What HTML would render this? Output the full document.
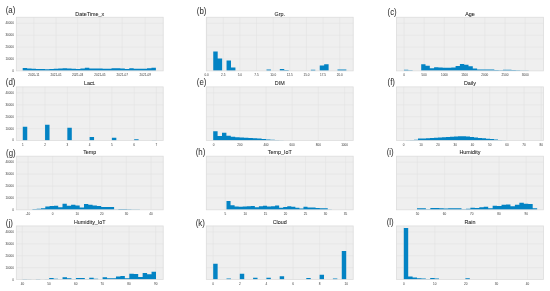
<!DOCTYPE html>
<html><head><meta charset="utf-8"><title>Histograms</title>
<style>
html,body{margin:0;padding:0;background:#fff;}
body{width:550px;height:291px;overflow:hidden;}
svg{display:block;}
.gr{stroke:#e2e2e2;stroke-width:0.55;}
.fr{fill:none;stroke:#dcdcdc;stroke-width:0.8;}
.b{fill:#0383c4;}
text{font-family:"DejaVu Sans","Liberation Sans",sans-serif;}
.xt,.yt{font-family:"Liberation Sans","DejaVu Sans",sans-serif;font-size:3.1px;fill:#333333;}
.xt{text-anchor:middle;}
.yt{text-anchor:end;fill:#3c3c3c;}
.ti{font-family:"Liberation Sans","DejaVu Sans",sans-serif;font-size:5.4px;fill:#222222;text-anchor:middle;stroke:#222222;stroke-width:0.06;}
.lb{font-family:"Liberation Sans","DejaVu Sans",sans-serif;font-size:7.9px;fill:#333333;stroke:#333333;stroke-width:0.04;}
</style></head>
<body>
<svg width="550" height="291" viewBox="0 0 550 291">
<rect width="550" height="291" fill="#fff"/>
<rect x="16.3" y="17.25" width="146.9" height="53.6" fill="#efefef"/>
<line x1="33.8" y1="17.25" x2="33.8" y2="70.85" class="gr"/>
<line x1="56.1" y1="17.25" x2="56.1" y2="70.85" class="gr"/>
<line x1="77.6" y1="17.25" x2="77.6" y2="70.85" class="gr"/>
<line x1="99.9" y1="17.25" x2="99.9" y2="70.85" class="gr"/>
<line x1="122.2" y1="17.25" x2="122.2" y2="70.85" class="gr"/>
<line x1="145.2" y1="17.25" x2="145.2" y2="70.85" class="gr"/>
<line x1="16.3" y1="58.95" x2="163.2" y2="58.95" class="gr"/>
<line x1="16.3" y1="47.05" x2="163.2" y2="47.05" class="gr"/>
<line x1="16.3" y1="35.15" x2="163.2" y2="35.15" class="gr"/>
<line x1="16.3" y1="23.25" x2="163.2" y2="23.25" class="gr"/>
<path d="M22.7 70.85L22.7 68L27.14 68L27.14 68.6L31.58 68.6L31.58 68.7L36.02 68.7L36.02 68.9L40.46 68.9L40.46 69.1L44.9 69.1L44.9 69.2L49.34 69.2L49.34 69L53.78 69L53.78 68.8L58.22 68.8L58.22 68.6L62.66 68.6L62.66 68.3L67.1 68.3L67.1 68.4L71.54 68.4L71.54 68.8L75.98 68.8L75.98 69.1L80.42 69.1L80.42 68.6L84.86 68.6L84.86 67.7L89.3 67.7L89.3 68.4L93.74 68.4L93.74 68.5L98.18 68.5L98.18 68.6L102.62 68.6L102.62 68.8L107.06 68.8L107.06 68.7L111.5 68.7L111.5 68.3L115.94 68.3L115.94 68.3L120.38 68.3L120.38 68.4L124.82 68.4L124.82 69L129.26 69L129.26 68.3L133.7 68.3L133.7 68.8L138.14 68.8L138.14 68.8L142.58 68.8L142.58 68.8L147.02 68.8L147.02 68.3L151.46 68.3L151.46 67.8L155.9 67.8L155.9 70.85Z" class="b"/>
<rect x="16.3" y="17.25" width="146.9" height="53.6" class="fr"/>
<text x="33.8" y="76.05" class="xt">2020-11</text>
<text x="56.1" y="76.05" class="xt">2021-01</text>
<text x="77.6" y="76.05" class="xt">2021-03</text>
<text x="99.9" y="76.05" class="xt">2021-05</text>
<text x="122.2" y="76.05" class="xt">2021-07</text>
<text x="145.2" y="76.05" class="xt">2021-09</text>
<text x="14" y="71.83" class="yt">0</text>
<text x="14" y="59.93" class="yt">10000</text>
<text x="14" y="48.03" class="yt">20000</text>
<text x="14" y="36.13" class="yt">30000</text>
<text x="14" y="24.23" class="yt">40000</text>
<text transform="translate(89.75,15.95) scale(1,1.12)" class="ti">DateTime_x</text>
<text transform="translate(5.7,13.1) scale(1,1.07)" class="lb">(a)</text>
<rect x="206.3" y="17.25" width="146.9" height="53.6" fill="#efefef"/>
<line x1="206.6" y1="17.25" x2="206.6" y2="70.85" class="gr"/>
<line x1="223.24" y1="17.25" x2="223.24" y2="70.85" class="gr"/>
<line x1="239.88" y1="17.25" x2="239.88" y2="70.85" class="gr"/>
<line x1="256.51" y1="17.25" x2="256.51" y2="70.85" class="gr"/>
<line x1="273.15" y1="17.25" x2="273.15" y2="70.85" class="gr"/>
<line x1="289.79" y1="17.25" x2="289.79" y2="70.85" class="gr"/>
<line x1="306.43" y1="17.25" x2="306.43" y2="70.85" class="gr"/>
<line x1="323.06" y1="17.25" x2="323.06" y2="70.85" class="gr"/>
<line x1="339.7" y1="17.25" x2="339.7" y2="70.85" class="gr"/>
<line x1="206.3" y1="58.95" x2="353.2" y2="58.95" class="gr"/>
<line x1="206.3" y1="47.05" x2="353.2" y2="47.05" class="gr"/>
<line x1="206.3" y1="35.15" x2="353.2" y2="35.15" class="gr"/>
<line x1="206.3" y1="23.25" x2="353.2" y2="23.25" class="gr"/>
<path d="M213.25 70.85L213.25 51.6L217.69 51.6L217.69 58.6L222.13 58.6L222.13 70.85ZM226.56 70.85L226.56 60.6L231 60.6L231 67.6L235.44 67.6L235.44 70.85ZM266.5 70.85L266.5 69.6L270.93 69.6L270.93 70.85ZM279.81 70.85L279.81 68.9L284.24 68.9L284.24 70.1L288.68 70.1L288.68 70.85ZM310.86 70.85L310.86 69.8L315.3 69.8L315.3 70.85ZM319.74 70.85L319.74 65.5L324.17 65.5L324.17 64.3L328.61 64.3L328.61 70.85ZM337.48 70.85L337.48 69.4L341.92 69.4L341.92 69.4L346.35 69.4L346.36 70.85Z" class="b"/>
<rect x="206.3" y="17.25" width="146.9" height="53.6" class="fr"/>
<text x="206.6" y="76.05" class="xt">0.0</text>
<text x="223.24" y="76.05" class="xt">2.5</text>
<text x="239.88" y="76.05" class="xt">5.0</text>
<text x="256.51" y="76.05" class="xt">7.5</text>
<text x="273.15" y="76.05" class="xt">10.0</text>
<text x="289.79" y="76.05" class="xt">12.5</text>
<text x="306.43" y="76.05" class="xt">15.0</text>
<text x="323.06" y="76.05" class="xt">17.5</text>
<text x="339.7" y="76.05" class="xt">20.0</text>
<text transform="translate(279.75,15.95) scale(1,1.12)" class="ti">Grp.</text>
<text transform="translate(196.8,14) scale(1,1.07)" class="lb">(b)</text>
<rect x="396.5" y="17.25" width="146.9" height="53.6" fill="#efefef"/>
<line x1="404" y1="17.25" x2="404" y2="70.85" class="gr"/>
<line x1="424.2" y1="17.25" x2="424.2" y2="70.85" class="gr"/>
<line x1="444.4" y1="17.25" x2="444.4" y2="70.85" class="gr"/>
<line x1="464.6" y1="17.25" x2="464.6" y2="70.85" class="gr"/>
<line x1="484.8" y1="17.25" x2="484.8" y2="70.85" class="gr"/>
<line x1="505" y1="17.25" x2="505" y2="70.85" class="gr"/>
<line x1="525.2" y1="17.25" x2="525.2" y2="70.85" class="gr"/>
<line x1="396.5" y1="58.95" x2="543.4" y2="58.95" class="gr"/>
<line x1="396.5" y1="47.05" x2="543.4" y2="47.05" class="gr"/>
<line x1="396.5" y1="35.15" x2="543.4" y2="35.15" class="gr"/>
<line x1="396.5" y1="23.25" x2="543.4" y2="23.25" class="gr"/>
<path d="M404 70.85L404 69.8L408.3 69.8L408.3 70.35L412.6 70.35L412.6 70.85ZM421.2 70.85L421.2 64.3L425.5 64.3L425.5 65.8L429.8 65.8L429.8 68.2L434.1 68.2L434.1 67.3L438.4 67.3L438.4 67.6L442.7 67.6L442.7 67.8L447 67.8L447 67.8L451.3 67.8L451.3 67.6L455.6 67.6L455.6 66L459.9 66L459.9 64.1L464.2 64.1L464.2 64.8L468.5 64.8L468.5 66.3L472.8 66.3L472.8 68.6L477.1 68.6L477.1 69.4L481.4 69.4L481.4 69.6L485.7 69.6L485.7 69.6L490 69.6L490 69.6L494.3 69.6L494.3 70.1L498.6 70.1L498.6 70.3L502.9 70.3L502.9 69.7L507.2 69.7L507.2 69.8L511.5 69.8L511.5 70.1L515.8 70.1L515.8 70.3L520.1 70.3L520.1 70.4L524.4 70.4L524.4 70.55L528.7 70.55L528.7 70.85Z" class="b"/>
<rect x="396.5" y="17.25" width="146.9" height="53.6" class="fr"/>
<text x="404" y="76.05" class="xt">0</text>
<text x="424.2" y="76.05" class="xt">500</text>
<text x="444.4" y="76.05" class="xt">1000</text>
<text x="464.6" y="76.05" class="xt">1500</text>
<text x="484.8" y="76.05" class="xt">2000</text>
<text x="505" y="76.05" class="xt">2500</text>
<text x="525.2" y="76.05" class="xt">3000</text>
<text transform="translate(469.95,15.95) scale(1,1.12)" class="ti">Age</text>
<text transform="translate(387.5,15.1) scale(1,1.07)" class="lb">(c)</text>
<rect x="16.3" y="86.9" width="146.9" height="53.6" fill="#efefef"/>
<line x1="22.8" y1="86.9" x2="22.8" y2="140.5" class="gr"/>
<line x1="45.07" y1="86.9" x2="45.07" y2="140.5" class="gr"/>
<line x1="67.34" y1="86.9" x2="67.34" y2="140.5" class="gr"/>
<line x1="89.61" y1="86.9" x2="89.61" y2="140.5" class="gr"/>
<line x1="111.88" y1="86.9" x2="111.88" y2="140.5" class="gr"/>
<line x1="134.15" y1="86.9" x2="134.15" y2="140.5" class="gr"/>
<line x1="156.42" y1="86.9" x2="156.42" y2="140.5" class="gr"/>
<line x1="16.3" y1="128.6" x2="163.2" y2="128.6" class="gr"/>
<line x1="16.3" y1="116.7" x2="163.2" y2="116.7" class="gr"/>
<line x1="16.3" y1="104.8" x2="163.2" y2="104.8" class="gr"/>
<line x1="16.3" y1="92.9" x2="163.2" y2="92.9" class="gr"/>
<path d="M22.8 140.5L22.8 126.75L27.25 126.75L27.25 140.5ZM45.07 140.5L45.07 124.85L49.52 124.85L49.52 140.5ZM67.34 140.5L67.34 127.75L71.79 127.75L71.79 140.5ZM89.61 140.5L89.61 136.95L94.06 136.95L94.06 140.5ZM111.88 140.5L111.88 137.85L116.33 137.85L116.33 140.5ZM134.15 140.5L134.15 139.3L138.6 139.3L138.6 140.5ZM151.97 140.5L151.97 140.35L156.42 140.35L156.42 140.5Z" class="b"/>
<rect x="16.3" y="86.9" width="146.9" height="53.6" class="fr"/>
<text x="22.8" y="145.7" class="xt">1</text>
<text x="45.07" y="145.7" class="xt">2</text>
<text x="67.34" y="145.7" class="xt">3</text>
<text x="89.61" y="145.7" class="xt">4</text>
<text x="111.88" y="145.7" class="xt">5</text>
<text x="134.15" y="145.7" class="xt">6</text>
<text x="156.42" y="145.7" class="xt">7</text>
<text x="14" y="141.48" class="yt">0</text>
<text x="14" y="129.58" class="yt">10000</text>
<text x="14" y="117.68" class="yt">20000</text>
<text x="14" y="105.78" class="yt">30000</text>
<text x="14" y="93.88" class="yt">40000</text>
<text transform="translate(89.75,84.95) scale(1,1.12)" class="ti">Lact.</text>
<text transform="translate(5.8,84.85) scale(1,1.07)" class="lb">(d)</text>
<rect x="206.3" y="86.9" width="146.9" height="53.6" fill="#efefef"/>
<line x1="213.6" y1="86.9" x2="213.6" y2="140.5" class="gr"/>
<line x1="239.8" y1="86.9" x2="239.8" y2="140.5" class="gr"/>
<line x1="266" y1="86.9" x2="266" y2="140.5" class="gr"/>
<line x1="292.2" y1="86.9" x2="292.2" y2="140.5" class="gr"/>
<line x1="318.4" y1="86.9" x2="318.4" y2="140.5" class="gr"/>
<line x1="344.6" y1="86.9" x2="344.6" y2="140.5" class="gr"/>
<line x1="206.3" y1="128.6" x2="353.2" y2="128.6" class="gr"/>
<line x1="206.3" y1="116.7" x2="353.2" y2="116.7" class="gr"/>
<line x1="206.3" y1="104.8" x2="353.2" y2="104.8" class="gr"/>
<line x1="206.3" y1="92.9" x2="353.2" y2="92.9" class="gr"/>
<path d="M213.2 140.5L213.2 131.15L217.6 131.15L217.6 135.95L222 135.95L222 132.85L226.4 132.85L226.4 135.65L230.8 135.65L230.8 136.75L235.2 136.75L235.2 137.15L239.6 137.15L239.6 137.45L244 137.45L244 137.65L248.4 137.65L248.4 137.95L252.8 137.95L252.8 138.25L257.2 138.25L257.2 138.55L261.6 138.55L261.6 138.95L266 138.95L266 139.45L270.4 139.45L270.4 139.85L274.8 139.85L274.8 140.05L279.2 140.05L279.2 140.25L283.6 140.25L283.6 140.38L288 140.38L288 140.42L292.4 140.42L292.4 140.45L296.8 140.45L296.8 140.5Z" class="b"/>
<rect x="206.3" y="86.9" width="146.9" height="53.6" class="fr"/>
<text x="213.6" y="145.7" class="xt">0</text>
<text x="239.8" y="145.7" class="xt">200</text>
<text x="266" y="145.7" class="xt">400</text>
<text x="292.2" y="145.7" class="xt">600</text>
<text x="318.4" y="145.7" class="xt">800</text>
<text x="344.6" y="145.7" class="xt">1000</text>
<text transform="translate(279.75,84.95) scale(1,1.12)" class="ti">DIM</text>
<text transform="translate(196.8,84.55) scale(1,1.07)" class="lb">(e)</text>
<rect x="396.5" y="86.9" width="146.9" height="53.6" fill="#efefef"/>
<line x1="403.7" y1="86.9" x2="403.7" y2="140.5" class="gr"/>
<line x1="420.9" y1="86.9" x2="420.9" y2="140.5" class="gr"/>
<line x1="438.1" y1="86.9" x2="438.1" y2="140.5" class="gr"/>
<line x1="455.3" y1="86.9" x2="455.3" y2="140.5" class="gr"/>
<line x1="472.5" y1="86.9" x2="472.5" y2="140.5" class="gr"/>
<line x1="489.7" y1="86.9" x2="489.7" y2="140.5" class="gr"/>
<line x1="506.9" y1="86.9" x2="506.9" y2="140.5" class="gr"/>
<line x1="524.1" y1="86.9" x2="524.1" y2="140.5" class="gr"/>
<line x1="541.3" y1="86.9" x2="541.3" y2="140.5" class="gr"/>
<line x1="396.5" y1="128.6" x2="543.4" y2="128.6" class="gr"/>
<line x1="396.5" y1="116.7" x2="543.4" y2="116.7" class="gr"/>
<line x1="396.5" y1="104.8" x2="543.4" y2="104.8" class="gr"/>
<line x1="396.5" y1="92.9" x2="543.4" y2="92.9" class="gr"/>
<path d="M406 140.5L406 140.2L410 140.2L410 140L414 140L414 139.7L418 139.7L418 138.6L422 138.6L422 138.4L426 138.4L426 138.2L430 138.2L430 138L434 138L434 137.8L438 137.8L438 137.6L442 137.6L442 137.3L446 137.3L446 137L450 137L450 136.7L454 136.7L454 136.4L458 136.4L458 136.2L462 136.2L462 136.2L466 136.2L466 136.5L470 136.5L470 137L474 137L474 137.5L478 137.5L478 137.9L482 137.9L482 138.3L486 138.3L486 138.7L490 138.7L490 139.1L494 139.1L494 139.5L498 139.5L498 139.9L502 139.9L502 140.2L506 140.2L506 140.5Z" class="b"/>
<rect x="396.5" y="86.9" width="146.9" height="53.6" class="fr"/>
<text x="403.7" y="145.7" class="xt">0</text>
<text x="420.9" y="145.7" class="xt">10</text>
<text x="438.1" y="145.7" class="xt">20</text>
<text x="455.3" y="145.7" class="xt">30</text>
<text x="472.5" y="145.7" class="xt">40</text>
<text x="489.7" y="145.7" class="xt">50</text>
<text x="506.9" y="145.7" class="xt">60</text>
<text x="524.1" y="145.7" class="xt">70</text>
<text x="541.3" y="145.7" class="xt">80</text>
<text transform="translate(469.95,84.95) scale(1,1.12)" class="ti">Daily</text>
<text transform="translate(387.5,84.7) scale(1,1.07)" class="lb">(f)</text>
<rect x="16.3" y="156.2" width="146.9" height="53.6" fill="#efefef"/>
<line x1="28" y1="156.2" x2="28" y2="209.8" class="gr"/>
<line x1="52.6" y1="156.2" x2="52.6" y2="209.8" class="gr"/>
<line x1="77.2" y1="156.2" x2="77.2" y2="209.8" class="gr"/>
<line x1="101.8" y1="156.2" x2="101.8" y2="209.8" class="gr"/>
<line x1="126.4" y1="156.2" x2="126.4" y2="209.8" class="gr"/>
<line x1="151" y1="156.2" x2="151" y2="209.8" class="gr"/>
<line x1="16.3" y1="197.9" x2="163.2" y2="197.9" class="gr"/>
<line x1="16.3" y1="186" x2="163.2" y2="186" class="gr"/>
<line x1="16.3" y1="174.1" x2="163.2" y2="174.1" class="gr"/>
<line x1="16.3" y1="162.2" x2="163.2" y2="162.2" class="gr"/>
<path d="M32.4 209.8L32.4 209L36.7 209L36.7 208.7L41 208.7L41 208.3L45.3 208.3L45.3 206.6L49.6 206.6L49.6 206L53.9 206L53.9 205.8L58.2 205.8L58.2 207.3L62.5 207.3L62.5 203.8L66.8 203.8L66.8 205.8L71.1 205.8L71.1 204.8L75.4 204.8L75.4 205.5L79.7 205.5L79.7 207.5L84 207.5L84 203.9L88.3 203.9L88.3 204.7L92.6 204.7L92.6 205.4L96.9 205.4L96.9 206L101.2 206L101.2 206.9L105.5 206.9L105.5 206.9L109.8 206.9L109.8 207L114.1 207L114.1 209.5L118.4 209.5L118.4 209L122.7 209L122.7 208.9L127 208.9L127 209.3L131.3 209.3L131.3 209.5L135.6 209.5L135.6 209.6L139.9 209.6L139.9 209.8Z" class="b"/>
<rect x="16.3" y="156.2" width="146.9" height="53.6" class="fr"/>
<text x="28" y="215" class="xt">-10</text>
<text x="52.6" y="215" class="xt">0</text>
<text x="77.2" y="215" class="xt">10</text>
<text x="101.8" y="215" class="xt">20</text>
<text x="126.4" y="215" class="xt">30</text>
<text x="151" y="215" class="xt">40</text>
<text x="14" y="210.78" class="yt">0</text>
<text x="14" y="198.88" class="yt">10000</text>
<text x="14" y="186.98" class="yt">20000</text>
<text x="14" y="175.08" class="yt">30000</text>
<text x="14" y="163.18" class="yt">40000</text>
<text transform="translate(89.75,154.45) scale(1,1.12)" class="ti">Temp</text>
<text transform="translate(6.1,156.1) scale(1,1.07)" class="lb">(g)</text>
<rect x="206.3" y="156.2" width="146.9" height="53.6" fill="#efefef"/>
<line x1="225.3" y1="156.2" x2="225.3" y2="209.8" class="gr"/>
<line x1="245.35" y1="156.2" x2="245.35" y2="209.8" class="gr"/>
<line x1="265.4" y1="156.2" x2="265.4" y2="209.8" class="gr"/>
<line x1="285.45" y1="156.2" x2="285.45" y2="209.8" class="gr"/>
<line x1="305.5" y1="156.2" x2="305.5" y2="209.8" class="gr"/>
<line x1="325.55" y1="156.2" x2="325.55" y2="209.8" class="gr"/>
<line x1="345.6" y1="156.2" x2="345.6" y2="209.8" class="gr"/>
<line x1="206.3" y1="197.9" x2="353.2" y2="197.9" class="gr"/>
<line x1="206.3" y1="186" x2="353.2" y2="186" class="gr"/>
<line x1="206.3" y1="174.1" x2="353.2" y2="174.1" class="gr"/>
<line x1="206.3" y1="162.2" x2="353.2" y2="162.2" class="gr"/>
<path d="M226.5 209.8L226.5 201.05L230.55 201.05L230.55 205.25L234.6 205.25L234.6 206.45L238.65 206.45L238.65 206.75L242.7 206.75L242.7 206.55L246.75 206.55L246.75 206.25L250.8 206.25L250.8 206.05L254.85 206.05L254.85 207.25L258.9 207.25L258.9 206.25L262.95 206.25L262.95 205.75L267 205.75L267 206.55L271.05 206.55L271.05 206.25L275.1 206.25L275.1 205.55L279.15 205.55L279.15 207.75L283.2 207.75L283.2 206.95L287.25 206.95L287.25 206.25L291.3 206.25L291.3 206.75L295.35 206.75L295.35 207.75L299.4 207.75L299.4 208.55L303.45 208.55L303.45 206.75L307.5 206.75L307.5 207.55L311.55 207.55L311.55 207.55L315.6 207.55L315.6 207.95L319.65 207.95L319.65 208.25L323.7 208.25L323.7 208.25L327.75 208.25L327.75 209.5L331.8 209.5L331.8 209.8Z" class="b"/>
<rect x="206.3" y="156.2" width="146.9" height="53.6" class="fr"/>
<text x="225.3" y="215" class="xt">5</text>
<text x="245.35" y="215" class="xt">10</text>
<text x="265.4" y="215" class="xt">15</text>
<text x="285.45" y="215" class="xt">20</text>
<text x="305.5" y="215" class="xt">25</text>
<text x="325.55" y="215" class="xt">30</text>
<text x="345.6" y="215" class="xt">35</text>
<text transform="translate(279.75,154.45) scale(1,1.12)" class="ti">Temp_IoT</text>
<text transform="translate(195.7,155.1) scale(1,1.07)" class="lb">(h)</text>
<rect x="396.5" y="156.2" width="146.9" height="53.6" fill="#efefef"/>
<line x1="417.4" y1="156.2" x2="417.4" y2="209.8" class="gr"/>
<line x1="444.6" y1="156.2" x2="444.6" y2="209.8" class="gr"/>
<line x1="471.8" y1="156.2" x2="471.8" y2="209.8" class="gr"/>
<line x1="499" y1="156.2" x2="499" y2="209.8" class="gr"/>
<line x1="526.2" y1="156.2" x2="526.2" y2="209.8" class="gr"/>
<line x1="396.5" y1="197.9" x2="543.4" y2="197.9" class="gr"/>
<line x1="396.5" y1="186" x2="543.4" y2="186" class="gr"/>
<line x1="396.5" y1="174.1" x2="543.4" y2="174.1" class="gr"/>
<line x1="396.5" y1="162.2" x2="543.4" y2="162.2" class="gr"/>
<path d="M417 209.8L417 208.25L421.45 208.25L421.45 208.15L425.9 208.15L425.9 209.25L430.35 209.25L430.35 208.05L434.8 208.05L434.8 208.05L439.25 208.05L439.25 208.25L443.7 208.25L443.7 208.45L448.15 208.45L448.15 208.15L452.6 208.15L452.6 208.15L457.05 208.15L457.05 208.15L461.5 208.15L461.5 209.35L465.95 209.35L465.95 208.75L470.4 208.75L470.4 207.75L474.85 207.75L474.85 208.05L479.3 208.05L479.3 207.25L483.75 207.25L483.75 206.65L488.2 206.65L488.2 208.15L492.65 208.15L492.65 205.65L497.1 205.65L497.1 206.05L501.55 206.05L501.55 204.85L506 204.85L506 204.55L510.45 204.55L510.45 206.35L514.9 206.35L514.9 204.85L519.35 204.85L519.35 202.85L523.8 202.85L523.8 203.75L528.25 203.75L528.25 203.95L532.7 203.95L532.7 208.35L537.15 208.35L537.15 209.8Z" class="b"/>
<rect x="396.5" y="156.2" width="146.9" height="53.6" class="fr"/>
<text x="417.4" y="215" class="xt">50</text>
<text x="444.6" y="215" class="xt">60</text>
<text x="471.8" y="215" class="xt">70</text>
<text x="499" y="215" class="xt">80</text>
<text x="526.2" y="215" class="xt">90</text>
<text transform="translate(469.95,154.45) scale(1,1.12)" class="ti">Humidity</text>
<text transform="translate(386.7,155.15) scale(1,1.07)" class="lb">(i)</text>
<rect x="16.3" y="225.95" width="146.9" height="53.6" fill="#efefef"/>
<line x1="22.4" y1="225.95" x2="22.4" y2="279.55" class="gr"/>
<line x1="49.05" y1="225.95" x2="49.05" y2="279.55" class="gr"/>
<line x1="75.7" y1="225.95" x2="75.7" y2="279.55" class="gr"/>
<line x1="102.35" y1="225.95" x2="102.35" y2="279.55" class="gr"/>
<line x1="129" y1="225.95" x2="129" y2="279.55" class="gr"/>
<line x1="155.65" y1="225.95" x2="155.65" y2="279.55" class="gr"/>
<line x1="16.3" y1="267.65" x2="163.2" y2="267.65" class="gr"/>
<line x1="16.3" y1="255.75" x2="163.2" y2="255.75" class="gr"/>
<line x1="16.3" y1="243.85" x2="163.2" y2="243.85" class="gr"/>
<line x1="16.3" y1="231.95" x2="163.2" y2="231.95" class="gr"/>
<path d="M22.5 279.55L22.5 279.05L26.95 279.05L26.95 279.35L31.4 279.35L31.4 279.55ZM35.85 279.55L35.85 279.05L40.3 279.05L40.3 279.55ZM44.75 279.55L44.75 279.35L49.2 279.35L49.2 278L53.65 278L53.65 278.7L58.1 278.7L58.1 279.25L62.55 279.25L62.55 277.2L67 277.2L67 278.3L71.45 278.3L71.45 279.15L75.9 279.15L75.9 278L80.35 278L80.35 278L84.8 278L84.8 279.15L89.25 279.15L89.25 277.8L93.7 277.8L93.7 278.75L98.15 278.75L98.15 279.45L102.6 279.45L102.6 277.2L107.05 277.2L107.05 278.2L111.5 278.2L111.5 278.2L115.95 278.2L115.95 276.5L120.4 276.5L120.4 276L124.85 276L124.85 278.2L129.3 278.2L129.3 273.8L133.75 273.8L133.75 274L138.2 274L138.2 277L142.65 277L142.65 273L147.1 273L147.1 274.2L151.55 274.2L151.55 271.8L156 271.8L156 279.55Z" class="b"/>
<rect x="16.3" y="225.95" width="146.9" height="53.6" class="fr"/>
<text x="22.4" y="284.75" class="xt">40</text>
<text x="49.05" y="284.75" class="xt">50</text>
<text x="75.7" y="284.75" class="xt">60</text>
<text x="102.35" y="284.75" class="xt">70</text>
<text x="129" y="284.75" class="xt">80</text>
<text x="155.65" y="284.75" class="xt">90</text>
<text x="14" y="280.53" class="yt">0</text>
<text x="14" y="268.63" class="yt">10000</text>
<text x="14" y="256.73" class="yt">20000</text>
<text x="14" y="244.83" class="yt">30000</text>
<text x="14" y="232.93" class="yt">40000</text>
<text transform="translate(89.75,224.2) scale(1,1.12)" class="ti">Humidity_IoT</text>
<text transform="translate(5.8,225.95) scale(1,1.07)" class="lb">(j)</text>
<rect x="206.3" y="225.95" width="146.9" height="53.6" fill="#efefef"/>
<line x1="213.2" y1="225.95" x2="213.2" y2="279.55" class="gr"/>
<line x1="239.8" y1="225.95" x2="239.8" y2="279.55" class="gr"/>
<line x1="266.4" y1="225.95" x2="266.4" y2="279.55" class="gr"/>
<line x1="293" y1="225.95" x2="293" y2="279.55" class="gr"/>
<line x1="319.6" y1="225.95" x2="319.6" y2="279.55" class="gr"/>
<line x1="346.2" y1="225.95" x2="346.2" y2="279.55" class="gr"/>
<line x1="206.3" y1="267.65" x2="353.2" y2="267.65" class="gr"/>
<line x1="206.3" y1="255.75" x2="353.2" y2="255.75" class="gr"/>
<line x1="206.3" y1="243.85" x2="353.2" y2="243.85" class="gr"/>
<line x1="206.3" y1="231.95" x2="353.2" y2="231.95" class="gr"/>
<path d="M213.2 279.55L213.2 263.7L217.63 263.7L217.63 279.55ZM226.5 279.55L226.5 278.5L230.93 278.5L230.93 279.55ZM239.8 279.55L239.8 273.7L244.23 273.7L244.23 279.55ZM253.1 279.55L253.1 277.8L257.53 277.8L257.53 279.55ZM266.4 279.55L266.4 277.8L270.83 277.8L270.83 279.55ZM279.7 279.55L279.7 276.3L284.13 276.3L284.13 279.55ZM306.3 279.55L306.3 278.1L310.73 278.1L310.73 279.55ZM319.6 279.55L319.6 274.7L324.03 274.7L324.03 279.55ZM332.9 279.55L332.9 278.5L337.33 278.5L337.33 279.55ZM341.77 279.55L341.77 251L346.2 251L346.2 279.55Z" class="b"/>
<rect x="206.3" y="225.95" width="146.9" height="53.6" class="fr"/>
<text x="213.2" y="284.75" class="xt">0</text>
<text x="239.8" y="284.75" class="xt">2</text>
<text x="266.4" y="284.75" class="xt">4</text>
<text x="293" y="284.75" class="xt">6</text>
<text x="319.6" y="284.75" class="xt">8</text>
<text x="346.2" y="284.75" class="xt">10</text>
<text transform="translate(279.75,224.2) scale(1,1.12)" class="ti">Cloud</text>
<text transform="translate(195.7,225.65) scale(1,1.07)" class="lb">(k)</text>
<rect x="396.5" y="225.95" width="146.9" height="53.6" fill="#efefef"/>
<line x1="403.9" y1="225.95" x2="403.9" y2="279.55" class="gr"/>
<line x1="434.8" y1="225.95" x2="434.8" y2="279.55" class="gr"/>
<line x1="465.7" y1="225.95" x2="465.7" y2="279.55" class="gr"/>
<line x1="496.6" y1="225.95" x2="496.6" y2="279.55" class="gr"/>
<line x1="527.5" y1="225.95" x2="527.5" y2="279.55" class="gr"/>
<line x1="396.5" y1="267.65" x2="543.4" y2="267.65" class="gr"/>
<line x1="396.5" y1="255.75" x2="543.4" y2="255.75" class="gr"/>
<line x1="396.5" y1="243.85" x2="543.4" y2="243.85" class="gr"/>
<line x1="396.5" y1="231.95" x2="543.4" y2="231.95" class="gr"/>
<path d="M403.8 279.55L403.8 228.1L408.2 228.1L408.2 276.5L412.6 276.5L412.6 277.5L417 277.5L417 278.3L421.4 278.3L421.4 278.5L425.8 278.5L425.8 279L430.2 279L430.2 278L434.6 278L434.6 278.5L439 278.5L439 279.55ZM465.4 279.55L465.4 278.3L469.8 278.3L469.8 279.55Z" class="b"/>
<rect x="396.5" y="225.95" width="146.9" height="53.6" class="fr"/>
<text x="403.9" y="284.75" class="xt">0</text>
<text x="434.8" y="284.75" class="xt">10</text>
<text x="465.7" y="284.75" class="xt">20</text>
<text x="496.6" y="284.75" class="xt">30</text>
<text x="527.5" y="284.75" class="xt">40</text>
<text transform="translate(469.95,224.2) scale(1,1.12)" class="ti">Rain</text>
<text transform="translate(386.7,225.15) scale(1,1.07)" class="lb">(l)</text>
</svg>
</body></html>
